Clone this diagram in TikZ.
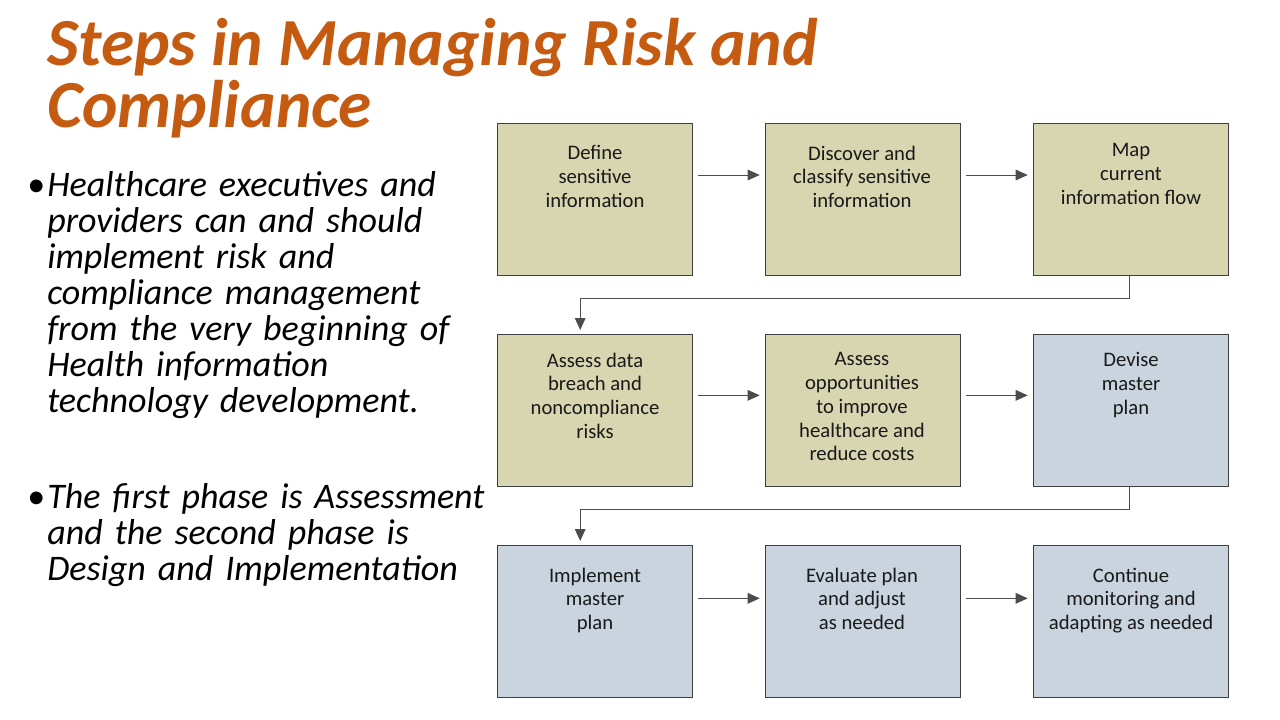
\documentclass[tikz,border=0pt]{standalone}
\usepackage{fontspec}
\setmainfont{Carlito}
\usetikzlibrary{arrows.meta}
\definecolor{tan}{HTML}{D8D5B1}
\definecolor{bluegray}{HTML}{C9D4DE}
\definecolor{titleor}{HTML}{C55A11}
\tikzset{
 box/.style={draw=black!75, line width=0.8pt, minimum width=146pt, minimum height=114pt, anchor=north west, inner sep=0pt},
 lbl/.style={align=center, font=\fontsize{15.5}{17.8}\selectfont, text=black!90, anchor=north},
 arr/.style={-{Triangle[length=9pt,width=8pt]}, line width=0.7pt, black!70},
 harr/.style={arr, shorten <=4pt, shorten >=4pt},
}
\begin{document}
\begin{tikzpicture}[x=0.75pt,y=-0.75pt]
\useasboundingbox (0,0) rectangle (1280,720);
\node[anchor=north west, text=titleor, font=\fontsize{50.5}{46.5}\selectfont\bfseries\itshape, align=left, inner sep=0pt] (title) at (47,18) {Steps in Managing Risk and\\Compliance};
\node[anchor=north west, font=\fontsize{27}{27}\selectfont\itshape, align=left, inner sep=0pt, text width=370pt] (b1) at (27,171) {\makebox[15pt][l]{\upshape•}Healthcare executives and\\\hspace*{15pt}providers can and should\\\hspace*{15pt}implement risk and\\\hspace*{15pt}compliance management\\\hspace*{15pt}from the very beginning of\\\hspace*{15pt}Health information\\\hspace*{15pt}technology development.};
\node[anchor=north west, font=\fontsize{27}{27}\selectfont\itshape, align=left, inner sep=0pt, text width=380pt] (b2) at (27,483) {\makebox[15pt][l]{\upshape•}The first phase is Assessment\\\hspace*{15pt}and the second phase is\\\hspace*{15pt}Design and Implementation};
% boxes
\node[box, fill=tan] (a1) at (497,123) {};
\node[box, fill=tan] (a2) at (765,123) {};
\node[box, fill=tan] (a3) at (1033,123) {};
\node[box, fill=tan] (b1x) at (497,334) {};
\node[box, fill=tan] (b2x) at (765,334) {};
\node[box, fill=bluegray] (b3x) at (1033,334) {};
\node[box, fill=bluegray] (c1) at (497,545) {};
\node[box, fill=bluegray] (c2) at (765,545) {};
\node[box, fill=bluegray] (c3) at (1033,545) {};
% labels
\node[lbl] (t1) at (595,141) {Define\\sensitive\\information};
\node[lbl] (t2) at (862,141) {Discover and\\classify sensitive\\information};
\node[lbl] (t3) at (1131,139) {Map\\current\\information flow};
\node[lbl] (t4) at (595,348) {Assess data\\breach and\\noncompliance\\risks};
\node[lbl] (t5) at (862,348) {Assess\\opportunities\\to improve\\healthcare and\\reduce costs};
\node[lbl] (t6) at (1131,348) {Devise\\master\\plan};
\node[lbl] (t7) at (595,563) {Implement\\master\\plan};
\node[lbl] (t8) at (862,563) {Evaluate plan\\and adjust\\as needed};
\node[lbl] (t9) at (1131,563) {Continue\\monitoring and\\adapting as needed};
% arrows
\draw[harr] ([yshift=-39pt]a1.north east) -- ([yshift=-39pt]a2.north west);
\draw[harr] ([yshift=-39pt]a2.north east) -- ([yshift=-39pt]a3.north west);
\draw[harr] ([yshift=-46pt]b1x.north east) -- ([yshift=-46pt]b2x.north west);
\draw[harr] ([yshift=-46pt]b2x.north east) -- ([yshift=-46pt]b3x.north west);
\draw[harr] ([yshift=-40pt]c1.north east) -- ([yshift=-40pt]c2.north west);
\draw[harr] ([yshift=-40pt]c2.north east) -- ([yshift=-40pt]c3.north west);
\draw[arr, shorten >=3pt] ([xshift=-1pt]a3.south) -- ++(0,22) -| ([xshift=-11pt]b1x.north);
\draw[arr, shorten >=3pt] ([xshift=-1pt]b3x.south) -- ++(0,22) -| ([xshift=-11pt]c1.north);
\end{tikzpicture}
\end{document}
